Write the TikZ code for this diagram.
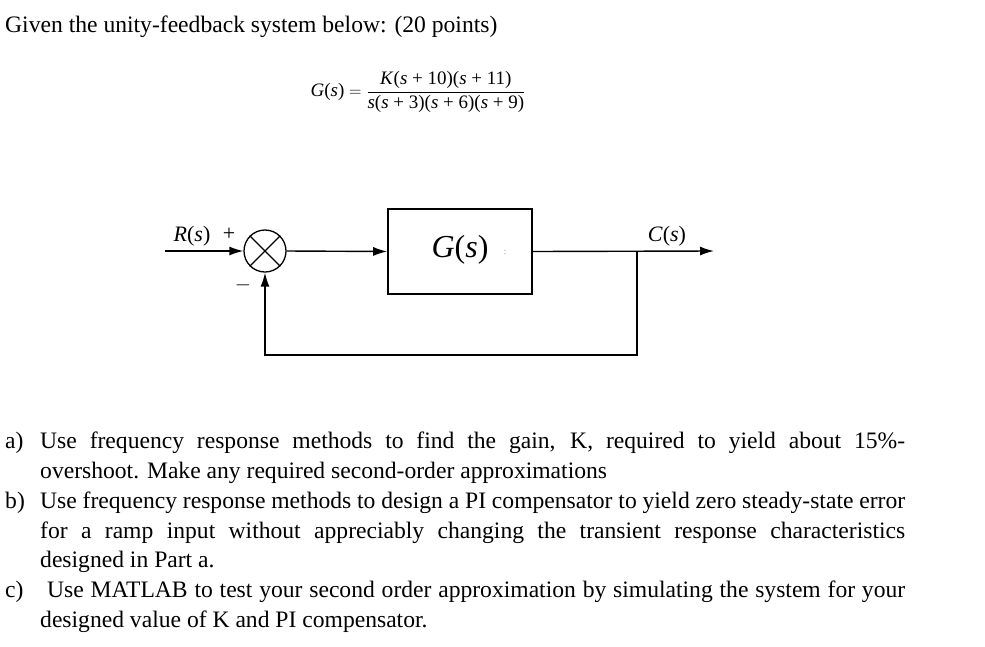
\documentclass[tikz,border=0pt]{standalone}
\usepackage{amsmath}
\usepackage{fontspec}
\setmainfont{Liberation Serif}
\usetikzlibrary{arrows.meta}
\newcommand{\vi}[1]{\textit{#1}}
\begin{document}
\begin{tikzpicture}[x=1pt,y=-1pt,
  txt/.style={anchor=base west,inner sep=0pt,font=\fontsize{23.6}{26}\selectfont},
  arr/.style={line width=1.4pt,-{Latex[length=14pt,width=9pt]}},
  lab/.style={inner sep=0pt,font=\fontsize{22}{24}\selectfont}]
\useasboundingbox (0,0) rectangle (985,646);
\node[txt] (title) at (5,32) {Given the unity-feedback system below: (20 points)};
\node[inner sep=0pt,font=\fontsize{19}{22}\selectfont] (eq) at (418,92) {\vi{G}(\vi{s}) $=\dfrac{\text{\vi{K}(\vi{s} + 10)(\vi{s} + 11)}}{\text{\vi{s}(\vi{s} + 3)(\vi{s} + 6)(\vi{s} + 9)}}$};
% block diagram
\node[draw,circle,line width=1.3pt,minimum size=42pt,inner sep=0pt] (sum) at (265,251) {};
\draw[line width=1.1pt] (sum.north west)--(sum.south east) (sum.north east)--(sum.south west);
\node[draw,line width=1.6pt,minimum width=144pt,minimum height=85pt] (G) at (460,251.5) {};
\node[lab,font=\fontsize{32}{34}\selectfont] (Gl) at (460,250) {\vi{G}(\vi{s})};
\node[lab,font=\fontsize{9}{10}\selectfont,gray] (dots) at (505,252) {:};
\coordinate (in) at (165,251);
\coordinate (out) at (714,251);
\coordinate (br) at (637,251);
\coordinate (bl) at (637,355);
\coordinate (fl) at (265,355);
\draw[arr] (in) -- (sum.west);
\draw[arr] (sum.east) -- (G.west);
\draw[arr] (G.east) -- (out);
\draw[arr] (br) -- (bl) -- (fl) -- (sum.south);
\node[lab] (R) at (192,236) {\vi{R}(\vi{s})};
\node[lab] (plus) at (229,234) {+};
\node[lab] (minus) at (243,285) {$-$};
\node[lab] (C) at (667,236) {\vi{C}(\vi{s})};
% questions
\node[txt] (a) at (5,448) {a)};
\node[txt] (a1) at (40,448) {\makebox[865pt][s]{Use frequency response methods to find the gain, K, required to yield about 15\%-}};
\node[txt] (a2) at (40,478) {overshoot. Make any required second-order approximations};
\node[txt] (b) at (5,508) {b)};
\node[txt] (b1) at (40,508) {\makebox[865pt][s]{Use frequency response methods to design a PI compensator to yield zero steady-state error}};
\node[txt] (b2) at (40,538) {\makebox[865pt][s]{for a ramp input without appreciably changing the transient response characteristics}};
\node[txt] (b3) at (40,567) {designed in Part a.};
\node[txt] (c) at (5,597) {c)};
\node[txt] (c1) at (47,597) {\makebox[858pt][s]{Use MATLAB to test your second order approximation by simulating the system for your}};
\node[txt] (c2) at (40,627) {designed value of K and PI compensator.};
\end{tikzpicture}
\end{document}
